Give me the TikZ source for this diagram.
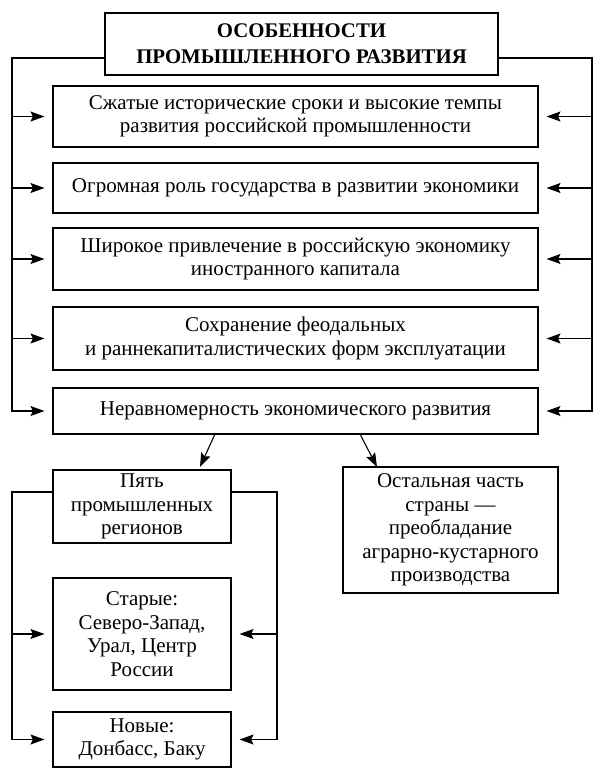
\documentclass[tikz,border=0pt]{standalone}
\usepackage{fontspec}
\setmainfont{Liberation Serif}
\usetikzlibrary{arrows.meta,calc}
\newcommand{\bodyfs}{\fontsize{21}{23.5}\selectfont}
\begin{document}
\begin{tikzpicture}[x=1pt,y=-1pt,
  box/.style={draw, line width=1.1pt, align=center, inner sep=0pt, font=\bodyfs},
  arr/.style={-{Stealth[length=14pt,width=10pt,inset=2.5pt]}, line width=1.1pt, shorten >=8pt},
  diag/.style={-{Stealth[length=14pt,width=10pt,inset=2.5pt]}, line width=1.1pt},
  ln/.style={line width=1pt}]
\useasboundingbox (0,0) rectangle (604,780);
\node[box, minimum width=393pt, minimum height=62pt, font=\bfseries\fontsize{20.8}{26}\selectfont] (title) at (301.5,44) {ОСОБЕННОСТИ\\ПРОМЫШЛЕННОГО РАЗВИТИЯ};
\node[box, minimum width=485pt, minimum height=61pt] (b1) at (295.5,116.5) {Сжатые исторические сроки и высокие темпы\\развития российской промышленности};
\node[box, minimum width=485pt, minimum height=50pt] (b2) at (295.5,188) {Огромная роль государства в развитии экономики};
\node[box, minimum width=485pt, minimum height=62pt] (b3) at (295.5,259) {Широкое привлечение в российскую экономику\\иностранного капитала};
\node[box, minimum width=485pt, minimum height=63pt] (b4) at (295.5,338.5) {Сохранение феодальных\\и раннекапиталистических форм эксплуатации};
\node[box, minimum width=485pt, minimum height=46pt] (b5) at (295.5,411) {Неравномерность экономического развития};
\node[box, minimum width=178pt, minimum height=73pt] (b6) at (142,506.5) {Пять\\промышленных\\регионов};
\node[box, minimum width=178pt, minimum height=112pt] (b7) at (142,634) {Старые:\\Северо-Запад,\\Урал, Центр\\России};
\node[box, minimum width=178pt, minimum height=55pt] (b8) at (142,739.5) {Новые:\\Донбасс, Баку};
\node[box, minimum width=215pt, minimum height=126pt] (b9) at (450.5,530) {Остальная часть\\страны —\\преобладание\\аграрно-кустарного\\производства};
% top brackets
\coordinate (tl) at (105,58);
\coordinate (tr) at (498,58);
\coordinate (lx) at (12,0);
\coordinate (rx) at (592,0);
\draw[arr] (tl) -- (tl -| lx) |- (b5.west);
\draw[arr] (tr) -- (tr -| rx) |- (b5.east);
\foreach \b in {b1,b2,b3,b4}{
  \draw[arr] (\b.west -| lx) -- (\b.west);
  \draw[arr] (\b.east -| rx) -- (\b.east);
}
% diagonal arrows
\coordinate (d1s) at (215,434);
\coordinate (d1e) at (200,467);
\coordinate (d2s) at (360,434);
\coordinate (d2e) at (377,467);
\draw[diag] (d1s) -- (d1e);
\draw[diag] (d2s) -- (d2e);
% bottom brackets
\coordinate (bl) at (54,492);
\coordinate (br) at (231,492);
\coordinate (rx2) at (277,0);
\draw[arr] (bl) -- (bl -| lx) |- (b8.west);
\draw[arr] (br) -- (br -| rx2) |- (b8.east);
\draw[arr] (b7.west -| lx) -- (b7.west);
\draw[arr] (b7.east -| rx2) -- (b7.east);
\end{tikzpicture}
\end{document}
